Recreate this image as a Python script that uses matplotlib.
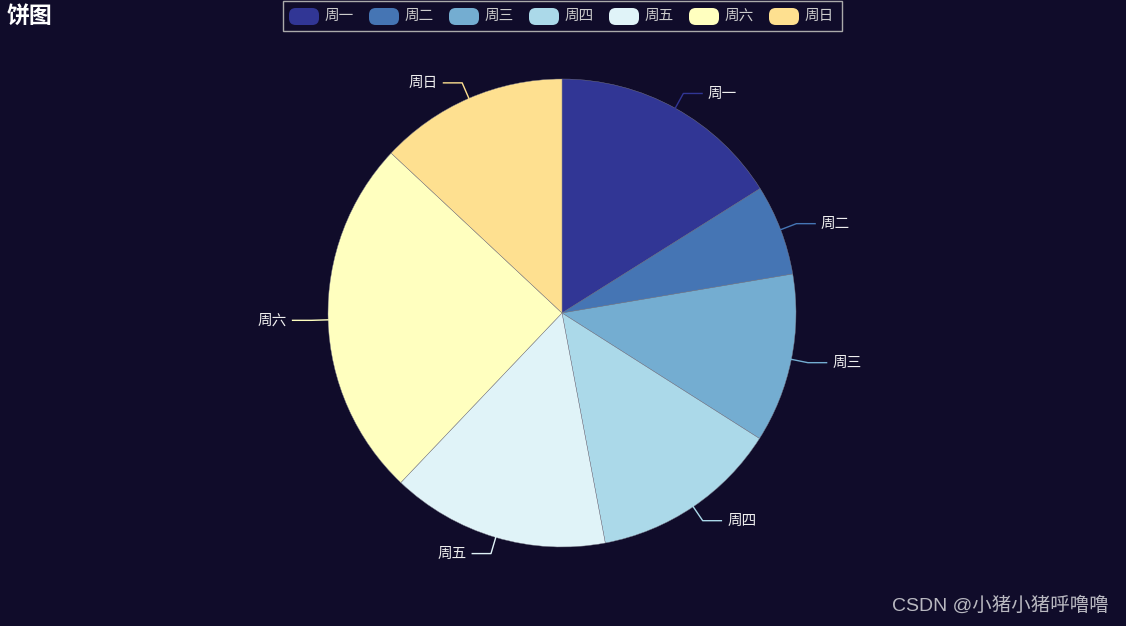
import numpy as np
import matplotlib
matplotlib.use('Agg')
import matplotlib.pyplot as plt
from matplotlib.patches import FancyBboxPatch, Rectangle

plt.rcParams['font.family'] = ['Noto Sans CJK SC', 'DejaVu Sans']

# данные
days = ['周一', '周二', '周三', '周四', '周五', '周六', '周日']
values = [95, 37, 69, 77, 89, 147, 77]
colors = ['#313695', '#4575b4', '#74add1', '#abd9e9', '#e0f3f8', '#ffffbf', '#fee090']

BG = '#100c2a'
W, H = 1126, 626
CX, CY, R = 562, 313, 234

fig = plt.figure(figsize=(W / 100, H / 100), dpi=100)
fig.patch.set_facecolor(BG)

ax = fig.add_axes([(CX - R) / W, (H - CY - R) / H, 2 * R / W, 2 * R / H])
ax.set_facecolor(BG)
wedges, _ = ax.pie(values, colors=colors, startangle=90, counterclock=False, radius=1,
                   wedgeprops=dict(edgecolor='#7a7a88', linewidth=0.3))
ax.set_xlim(-1, 1)
ax.set_ylim(-1, 1)
ax.set_aspect('equal')
ax.axis('off')

# подписи с линиями
for w, name, col in zip(wedges, days, colors):
    mid = np.deg2rad((w.theta1 + w.theta2) / 2)
    x0, y0 = np.cos(mid), np.sin(mid)
    x1, y1 = 1.072 * x0, 1.072 * y0
    side = 1 if x0 >= 0 else -1
    x2 = x1 + side * 0.08
    ax.plot([x0, x1, x2], [y0, y1, y1], color=col, lw=1, clip_on=False)
    ax.text(x2 + side * 0.025, y1, name, color='#eeeeee', fontsize=10.5,
            ha='left' if side > 0 else 'right', va='center', clip_on=False)

# заголовок
fig.text(7 / W, 1 - 16 / H, '饼图', color='#ffffff', fontsize=16.5, fontweight='bold',
         ha='left', va='center')

# легенда
fig.patches.append(Rectangle((283 / W, 1 - 31 / H), (842 - 283) / W, 30 / H,
                             transform=fig.transFigure, facecolor='none',
                             edgecolor='#aaaaaa', linewidth=1))
for i, (name, col) in enumerate(zip(days, colors)):
    lx = 289 + i * 80
    fig.patches.append(FancyBboxPatch((lx / W, 1 - 25 / H), 30 / W, 17 / H,
                                      boxstyle='round,pad=0,rounding_size=0.006',
                                      transform=fig.transFigure, facecolor=col,
                                      edgecolor='none', mutation_aspect=W / H))
    fig.text((lx + 36) / W, 1 - 16 / H, name, color='#cccccc', fontsize=10.5,
             ha='left', va='center')

# водяной знак
fig.text(1109 / W, 1 - 606 / H, 'CSDN @小猪小猪呼噜噜', color='#b8b8c0', fontsize=14,
         family=['Liberation Sans', 'Noto Sans CJK SC'], ha='right', va='center')

fig.savefig('out.png', dpi=100, facecolor=BG)
